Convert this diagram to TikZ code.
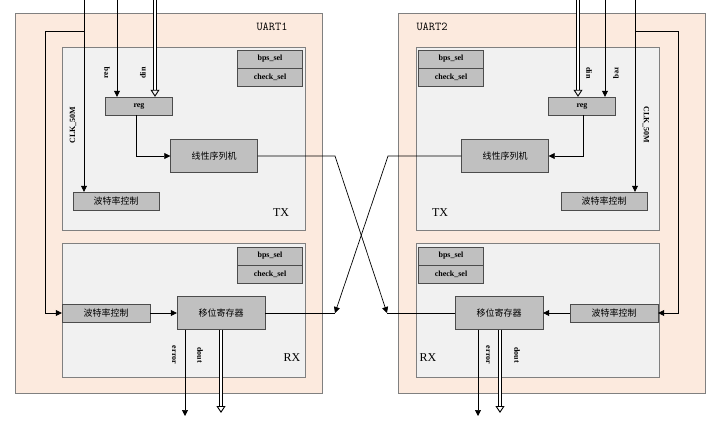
\documentclass[tikz,border=0pt]{standalone}
\usepackage{fontspec}
\setmainfont{Liberation Serif}
\newfontfamily\cjk{Noto Sans CJK SC}
\usetikzlibrary{positioning, arrows.meta}
\definecolor{peach}{RGB}{252,234,222}
\definecolor{pane}{RGB}{241,241,241}
\definecolor{blk}{RGB}{192,192,192}
\tikzset{
    x=1pt, y=-1pt, % pixel grid of the reference
    >={Triangle[length=6pt,width=6pt]}, % filled arrow heads
    uart/.style={draw=gray, fill=peach},
    part/.style={draw=gray, fill=pane},
    blk/.style={draw=black!70, fill=blk, minimum height=18pt, inner sep=1pt, font=\bfseries\fontsize{8}{9}\selectfont},
    cn/.style={blk, font=\cjk\fontsize{9}{10}\selectfont},
    sig/.style={font=\bfseries\fontsize{8}{9}\selectfont, inner sep=1pt},
    bus/.style={double, double distance=2.5pt, line width=0.9pt, -{Triangle[open,length=7pt,width=9pt]}},
    wire/.style={->, line width=0.7pt},
}
\begin{document}
\begin{tikzpicture}
\useasboundingbox (0,0) rectangle (720,426);
% frames
\draw[uart] (15,13) rectangle (322,393);
\draw[uart] (398,13) rectangle (705,393);
\draw[part] (62,47) rectangle (305,230);
\draw[part] (62,243) rectangle (305,377);
\draw[part] (416,47) rectangle (659,230);
\draw[part] (416,243) rectangle (659,377);
\node[font=\ttfamily\large] at (272,27) {UART1};
\node[font=\ttfamily\large] at (432,27) {UART2};
\node[font=\large] at (281,213) {TX};
\node[font=\large] at (292,358) {RX};
\node[font=\large] at (440,213) {TX};
\node[font=\large] at (428,358) {RX};
% UART1 blocks
\node[blk, minimum width=65pt] (bpsA) at (270,59) {bps\_sel};
\node[blk, minimum width=65pt, below=0pt of bpsA] (chkA) {check\_sel};
\node[blk, minimum width=67pt] (regA) at (139,106) {reg};
\node[cn, minimum width=87pt, minimum height=33pt] (lsmA) at (214,156) {线性序列机};
\node[cn, minimum width=86pt] (btxA) at (116,201) {波特率控制};
\node[blk, minimum width=65pt] (bpsB) at (270,256) {bps\_sel};
\node[blk, minimum width=65pt, below=0pt of bpsB] (chkB) {check\_sel};
\node[cn, minimum width=88pt] (brxA) at (106,313) {波特率控制};
\node[cn, minimum width=88pt, minimum height=33pt] (shfA) at (221,313) {移位寄存器};
% UART2 blocks
\node[blk, minimum width=65pt] (bpsC) at (451,59) {bps\_sel};
\node[blk, minimum width=65pt, below=0pt of bpsC] (chkC) {check\_sel};
\node[blk, minimum width=67pt] (regB) at (582,106) {reg};
\node[cn, minimum width=87pt, minimum height=33pt] (lsmB) at (505,156) {线性序列机};
\node[cn, minimum width=86pt] (btxB) at (604,201) {波特率控制};
\node[blk, minimum width=65pt] (bpsD) at (451,256) {bps\_sel};
\node[blk, minimum width=65pt, below=0pt of bpsD] (chkD) {check\_sel};
\node[cn, minimum width=88pt] (brxB) at (614,313) {波特率控制};
\node[cn, minimum width=88pt, minimum height=33pt] (shfB) at (499,313) {移位寄存器};
% free ends
\coordinate (top) at (0,0);
\coordinate (bot) at (0,416);
% UART1 wiring
\draw[wire] (84,0) -- (btxA.north -| 84,0);
\draw[wire] (84,31) -- (45,31) -- (45,313) -- (brxA.west);
\draw[wire] (117,0) -- (regA.north -| 117,0);
\draw[bus] (155,0) -- (regA.north -| 155,0);
\draw[wire] (regA.south -| 136,0) |- (lsmA.west);
\draw[wire] (brxA.east) -- (shfA.west);
\draw[wire] (shfA.south -| 185,0) -- (185,416);
\draw[bus] (shfA.south -| 221,0) -- (221,413);
\node[sig, rotate=90] at (107,73) {req};
\node[sig, rotate=90] at (143,73) {din};
\node[sig, rotate=90] at (73,125) {CLK\_50M};
\node[sig, rotate=-90] at (174,355) {error};
\node[sig, rotate=-90] at (200,355) {dout};
% UART2 wiring
\draw[wire] (635,0) -- (btxB.north -| 635,0);
\draw[wire] (635,31) -- (678,31) -- (678,313) -- (brxB.east);
\draw[wire] (605,0) -- (regB.north -| 605,0);
\draw[bus] (578,0) -- (regB.north -| 578,0);
\draw[wire] (regB.south -| 583,0) |- (lsmB.east);
\draw[wire] (brxB.west) -- (shfB.east);
\draw[wire] (shfB.south -| 478,0) -- (478,416);
\draw[bus] (shfB.south -| 500,0) -- (500,413);
\node[sig, rotate=-90] at (616,73) {req};
\node[sig, rotate=-90] at (589,73) {din};
\node[sig, rotate=-90] at (646,125) {CLK\_50M};
\node[sig, rotate=-90] at (488,355) {error};
\node[sig, rotate=-90] at (517,355) {dout};
% crossed serial lines
\draw[wire] (lsmA.east) -- (335,156) -- (387,313);
\draw[line width=0.7pt] (387,313) -- (shfB.west);
\draw[wire] (lsmB.west) -- (388,156) -- (335,313);
\draw[line width=0.7pt] (335,313) -- (shfA.east);
\end{tikzpicture}
\end{document}
